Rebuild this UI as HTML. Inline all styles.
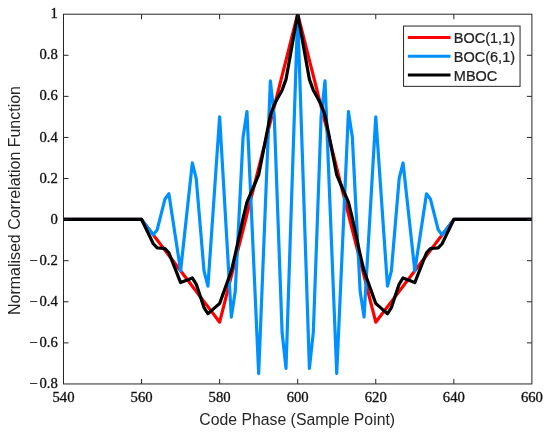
<!DOCTYPE html>
<html><head><meta charset="utf-8"><title>Normalised Correlation Function</title>
<style>
html,body{margin:0;padding:0;background:#fff;}
body{width:550px;height:435px;overflow:hidden;}
svg{display:block;}
.tk{font-family:"Liberation Serif","DejaVu Serif",serif;font-size:13.6px;fill:#111;stroke:#111;stroke-width:0.3px;}
.lb{font-family:"Liberation Sans","DejaVu Sans",sans-serif;fill:#262626;}
</style></head><body>
<svg width="550" height="435" viewBox="0 0 550 435">
<rect width="550" height="435" fill="#fff"/>
<defs><clipPath id="cp"><rect x="63.5" y="14.2" width="468.4" height="369.75"/></clipPath></defs>
<g clip-path="url(#cp)" fill="none" stroke-width="3.2" stroke-linejoin="round" transform="translate(0 -0.15)" stroke-linecap="butt">
<polyline stroke="#ff0000" points="63.50,219.62 67.40,219.62 71.31,219.62 75.21,219.62 79.11,219.62 83.02,219.62 86.92,219.62 90.82,219.62 94.73,219.62 98.63,219.62 102.53,219.62 106.44,219.62 110.34,219.62 114.24,219.62 118.15,219.62 122.05,219.62 125.95,219.62 129.86,219.62 133.76,219.62 137.66,219.62 141.57,219.62 145.47,224.75 149.37,229.89 153.28,235.02 157.18,240.16 161.08,245.29 164.99,250.43 168.89,255.56 172.79,260.70 176.70,265.84 180.60,270.97 184.50,276.11 188.41,281.24 192.31,286.38 196.21,291.51 200.12,296.65 204.02,301.78 207.92,306.92 211.83,312.05 215.73,317.19 219.63,322.32 223.54,306.92 227.44,291.51 231.34,276.11 235.25,260.70 239.15,245.29 243.05,229.89 246.96,214.48 250.86,199.08 254.76,183.67 258.67,168.26 262.57,152.86 266.47,137.45 270.38,122.04 274.28,106.64 278.18,91.23 282.09,75.83 285.99,60.42 289.89,45.01 293.80,29.61 297.70,14.20 301.60,29.61 305.51,45.01 309.41,60.42 313.31,75.83 317.22,91.23 321.12,106.64 325.02,122.04 328.93,137.45 332.83,152.86 336.73,168.26 340.64,183.67 344.54,199.08 348.44,214.48 352.35,229.89 356.25,245.29 360.15,260.70 364.06,276.11 367.96,291.51 371.86,306.92 375.77,322.32 379.67,317.19 383.57,312.05 387.48,306.92 391.38,301.78 395.28,296.65 399.19,291.51 403.09,286.38 406.99,281.24 410.90,276.11 414.80,270.97 418.70,265.84 422.61,260.70 426.51,255.56 430.41,250.43 434.32,245.29 438.22,240.16 442.12,235.02 446.03,229.89 449.93,224.75 453.83,219.62 457.74,219.62 461.64,219.62 465.54,219.62 469.45,219.62 473.35,219.62 477.25,219.62 481.16,219.62 485.06,219.62 488.96,219.62 492.87,219.62 496.77,219.62 500.67,219.62 504.58,219.62 508.48,219.62 512.38,219.62 516.29,219.62 520.19,219.62 524.09,219.62 528.00,219.62 531.90,219.62"/>
<polyline stroke="#0091ff" points="63.50,219.62 67.40,219.62 71.31,219.62 75.21,219.62 79.11,219.62 83.02,219.62 86.92,219.62 90.82,219.62 94.73,219.62 98.63,219.62 102.53,219.62 106.44,219.62 110.34,219.62 114.24,219.62 118.15,219.62 122.05,219.62 125.95,219.62 129.86,219.62 133.76,219.62 137.66,219.62 141.57,219.62 145.47,224.75 149.37,229.89 153.28,235.02 157.18,229.89 161.08,214.48 164.99,199.08 168.89,193.94 172.79,219.62 176.70,245.29 180.60,270.97 184.50,235.02 188.41,199.08 192.31,163.13 196.21,178.53 200.12,224.75 204.02,270.97 207.92,286.38 211.83,229.89 215.73,173.40 219.63,116.91 223.54,183.67 227.44,250.43 231.34,317.19 235.25,291.51 239.15,214.48 243.05,137.45 246.96,111.77 250.86,199.08 254.76,286.38 258.67,373.68 262.57,276.11 266.47,178.53 270.38,80.96 274.28,116.91 278.18,224.75 282.09,332.60 285.99,368.54 289.89,250.43 293.80,132.31 297.70,14.20 301.60,132.31 305.51,250.43 309.41,368.54 313.31,332.60 317.22,224.75 321.12,116.91 325.02,80.96 328.93,178.53 332.83,276.11 336.73,373.68 340.64,286.38 344.54,199.08 348.44,111.77 352.35,137.45 356.25,214.48 360.15,291.51 364.06,317.19 367.96,250.43 371.86,183.67 375.77,116.91 379.67,173.40 383.57,229.89 387.48,286.38 391.38,270.97 395.28,224.75 399.19,178.53 403.09,163.13 406.99,199.08 410.90,235.02 414.80,270.97 418.70,245.29 422.61,219.62 426.51,193.94 430.41,199.08 434.32,214.48 438.22,229.89 442.12,235.02 446.03,229.89 449.93,224.75 453.83,219.62 457.74,219.62 461.64,219.62 465.54,219.62 469.45,219.62 473.35,219.62 477.25,219.62 481.16,219.62 485.06,219.62 488.96,219.62 492.87,219.62 496.77,219.62 500.67,219.62 504.58,219.62 508.48,219.62 512.38,219.62 516.29,219.62 520.19,219.62 524.09,219.62 528.00,219.62 531.90,219.62"/>
<polyline stroke="#000000" points="63.50,219.62 67.40,219.62 71.31,219.62 75.21,219.62 79.11,219.62 83.02,219.62 86.92,219.62 90.82,219.62 94.73,219.62 98.63,219.62 102.53,219.62 106.44,219.62 110.34,219.62 114.24,219.62 118.15,219.62 122.05,219.62 125.95,219.62 129.86,219.62 133.76,219.62 137.66,219.62 141.57,219.62 145.47,227.70 149.37,235.79 153.28,243.88 157.18,248.08 161.08,248.40 164.99,248.71 168.89,252.91 172.79,262.87 176.70,272.83 180.60,282.78 184.50,281.23 188.41,279.68 192.31,278.13 196.21,284.19 200.12,296.02 204.02,307.84 207.92,313.91 211.83,310.49 215.73,307.07 219.63,303.65 223.54,292.76 227.44,281.87 231.34,270.98 235.25,254.64 239.15,236.59 243.05,218.53 246.96,202.19 250.86,193.17 254.76,184.15 258.67,175.13 262.57,155.20 266.47,135.28 270.38,115.36 274.28,104.62 278.18,97.46 282.09,90.31 285.99,79.57 289.89,57.78 293.80,35.99 297.70,14.20 301.60,35.99 305.51,57.78 309.41,79.57 313.31,90.31 317.22,97.46 321.12,104.62 325.02,115.36 328.93,135.28 332.83,155.20 336.73,175.13 340.64,184.15 344.54,193.17 348.44,202.19 352.35,218.53 356.25,236.59 360.15,254.64 364.06,270.98 367.96,281.87 371.86,292.76 375.77,303.65 379.67,307.07 383.57,310.49 387.48,313.91 391.38,307.84 395.28,296.02 399.19,284.19 403.09,278.13 406.99,279.68 410.90,281.23 414.80,282.78 418.70,272.83 422.61,262.87 426.51,252.91 430.41,248.71 434.32,248.40 438.22,248.08 442.12,243.88 446.03,235.79 449.93,227.70 453.83,219.62 457.74,219.62 461.64,219.62 465.54,219.62 469.45,219.62 473.35,219.62 477.25,219.62 481.16,219.62 485.06,219.62 488.96,219.62 492.87,219.62 496.77,219.62 500.67,219.62 504.58,219.62 508.48,219.62 512.38,219.62 516.29,219.62 520.19,219.62 524.09,219.62 528.00,219.62 531.90,219.62"/>
</g>
<rect x="63.5" y="14.2" width="468.4" height="369.75" fill="none" stroke="#262626" stroke-width="1"/>
<path d="M141.57 383.95 v-5.0 M141.57 14.2 v5.0 M219.63 383.95 v-5.0 M219.63 14.2 v5.0 M297.70 383.95 v-5.0 M297.70 14.2 v5.0 M375.77 383.95 v-5.0 M375.77 14.2 v5.0 M453.83 383.95 v-5.0 M453.83 14.2 v5.0 M63.5 342.87 h5.0 M531.9 342.87 h-5.0 M63.5 301.78 h5.0 M531.9 301.78 h-5.0 M63.5 260.70 h5.0 M531.9 260.70 h-5.0 M63.5 219.62 h5.0 M531.9 219.62 h-5.0 M63.5 178.53 h5.0 M531.9 178.53 h-5.0 M63.5 137.45 h5.0 M531.9 137.45 h-5.0 M63.5 96.37 h5.0 M531.9 96.37 h-5.0 M63.5 55.28 h5.0 M531.9 55.28 h-5.0" stroke="#262626" stroke-width="1" fill="none"/>
<g class="tk"><text transform="translate(63.50 401.6) scale(1.08 1)" text-anchor="middle">540</text><text transform="translate(141.57 401.6) scale(1.08 1)" text-anchor="middle">560</text><text transform="translate(219.63 401.6) scale(1.08 1)" text-anchor="middle">580</text><text transform="translate(297.70 401.6) scale(1.08 1)" text-anchor="middle">600</text><text transform="translate(375.77 401.6) scale(1.08 1)" text-anchor="middle">620</text><text transform="translate(453.83 401.6) scale(1.08 1)" text-anchor="middle">640</text><text transform="translate(531.90 401.6) scale(1.08 1)" text-anchor="middle">660</text><text transform="translate(57.8 18.25) scale(1.08 1)" text-anchor="end">1</text><text transform="translate(57.8 59.33) scale(1.08 1)" text-anchor="end">0.8</text><text transform="translate(57.8 100.42) scale(1.08 1)" text-anchor="end">0.6</text><text transform="translate(57.8 141.50) scale(1.08 1)" text-anchor="end">0.4</text><text transform="translate(57.8 182.58) scale(1.08 1)" text-anchor="end">0.2</text><text transform="translate(57.8 223.67) scale(1.08 1)" text-anchor="end">0</text><text transform="translate(57.8 264.75) scale(1.08 1)" text-anchor="end">−<tspan dx="1.6">0.2</tspan></text><text transform="translate(57.8 305.83) scale(1.08 1)" text-anchor="end">−<tspan dx="1.6">0.4</tspan></text><text transform="translate(57.8 346.92) scale(1.08 1)" text-anchor="end">−<tspan dx="1.6">0.6</tspan></text><text transform="translate(57.8 388.00) scale(1.08 1)" text-anchor="end">−<tspan dx="1.6">0.8</tspan></text></g>
<text class="lb" x="297.2" y="424.6" font-size="15.8" text-anchor="middle">Code Phase (Sample Point)</text>
<text class="lb" transform="translate(20.4 200.55) rotate(-90)" font-size="15.98" text-anchor="middle">Normalised Correlation Function</text>
<rect x="403.55" y="26.05" width="116.5" height="60.3" fill="#fff" stroke="#262626" stroke-width="1"/>
<g stroke-width="3" fill="none">
<path d="M407.9 37.4 H450.5" stroke="#ff0000"/>
<path d="M407.9 56.3 H450.5" stroke="#0091ff"/>
<path d="M407.9 75.1 H450.5" stroke="#000"/>
</g>
<g class="lb" font-size="14.5" fill="#000" stroke="#000" stroke-width="0.2">
<text x="453.8" y="42.7">BOC(1,1)</text>
<text x="453.8" y="61.7">BOC(6,1)</text>
<text x="453.8" y="80.7">MBOC</text>
</g>
</svg>
</body></html>
